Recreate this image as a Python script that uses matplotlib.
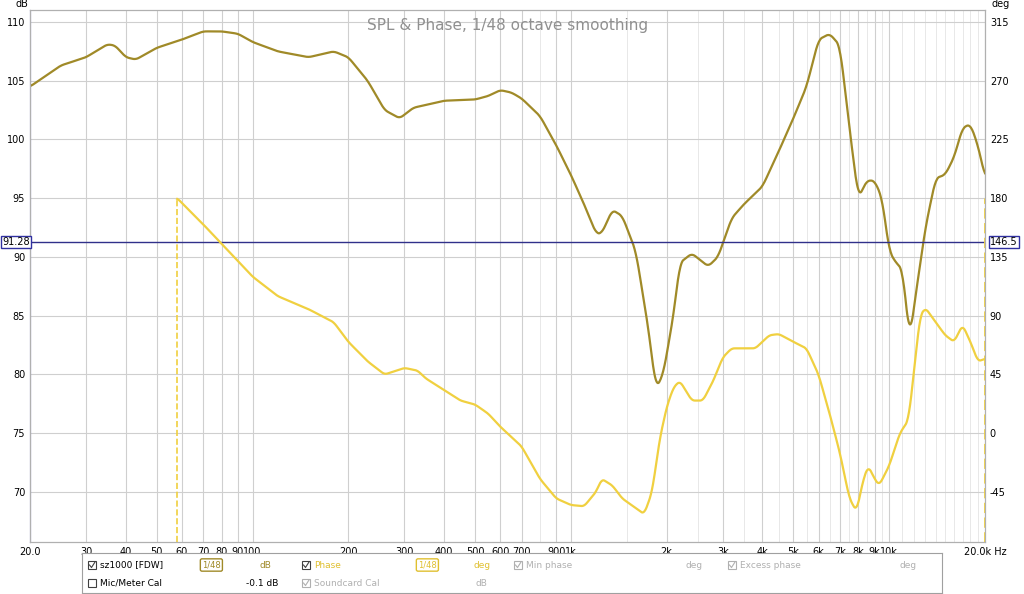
import numpy as np
import matplotlib
matplotlib.use("Agg")
import matplotlib.pyplot as plt
from matplotlib.ticker import FixedLocator, NullFormatter
plt.rcParams['axes.unicode_minus'] = False

spl_f = [20,25,30,35,37,40,43,50,60,70,80,90,100,120,150,180,200,230,260,290,320,400,500,550,600,650,700,800,900,1000,1100,1200,1250,1350,1450,1600,1750,1850,1950,2100,2200,2400,2700,2900,3200,3500,4000,4500,5000,5500,6000,6500,7000,7500,8000,8500,9000,9500,10000,10500,11000,11600,12000,13000,14000,15000,16000,17000,18000,19000,20000]
spl_db = [104.5,106.3,107,108.1,108,107,106.8,107.8,108.5,109.2,109.2,109,108.3,107.5,107,107.5,107,105,102.5,101.8,102.7,103.3,103.4,103.7,104.2,104,103.5,102,99.5,97,94.5,92,92,94,93.5,90.5,84,78.8,80,85,89.5,90.3,89.2,90,93.3,94.5,96,99,101.8,104.5,108.5,109,108,101,95,96.5,96.5,95,90.5,89.5,89,83,86,92.5,96.7,97,98.5,101,101.3,99.5,96.8]
ph_f = [58,70,80,100,120,150,180,200,230,260,300,330,350,400,450,500,550,600,700,800,900,1000,1100,1200,1250,1350,1450,1550,1700,1800,1900,2000,2100,2200,2400,2600,2800,3000,3200,3800,4200,4500,5000,5500,6000,6500,7000,7500,7900,8300,8600,9000,9300,10000,10800,11500,12000,12500,13000,14000,15000,16000,17000,18000,19000,20000]
ph_deg = [180,160,145,120,105,95,85,70,55,45,50,48,42,33,25,22,15,5,-10,-35,-50,-55,-56,-45,-35,-40,-50,-55,-62,-45,-5,20,35,40,25,25,40,58,65,65,75,76,70,65,45,15,-15,-50,-60,-35,-25,-35,-40,-25,0,10,50,90,96,85,75,70,83,70,55,57]
ref_db = 91.28
ref_deg = 146.5

def smooth(fx, fy, n=1500):
    lx = np.log10(fx); y = np.asarray(fy, float)
    xs = np.linspace(lx[0], lx[-1], n)
    ys = np.interp(xs, lx, y)
    k = 5
    pad = np.pad(ys, k, mode='edge')
    ys = np.convolve(pad, np.ones(2*k+1)/(2*k+1), mode='valid')
    return 10**xs, ys

fig = plt.figure(figsize=(10.24, 5.94), dpi=100)
fig.patch.set_facecolor('white')
ax = fig.add_axes([30/1024, 52/594, 955/1024, 532/594])
ax.set_xscale('log')
ax.set_xlim(20, 20000)
ylo, yhi = 65.74, 111.02
ax.set_ylim(ylo, yhi)
ax2 = ax.twinx()
ax2.set_ylim(9*ylo-675, 9*yhi-675)

major = [20,30,40,50,60,70,80,90,100,200,300,400,500,600,700,900,1000,2000,3000,4000,5000,6000,7000,8000,9000,10000,20000]
labels = ['20.0','30','40','50','60','70','80','90','100','200','300','400','500','600','700','900','1k','2k','3k','4k','5k','6k','7k','8k','9k','10k','20.0k Hz']
ax.xaxis.set_major_locator(FixedLocator(major))
ax.set_xticklabels(labels, fontsize=7)
ax.xaxis.set_minor_locator(FixedLocator([800]+[i*1000+500 for i in range(1,10)]+[11000,12000,13000,14000,15000,16000,17000,18000,19000]))
ax.xaxis.set_minor_formatter(NullFormatter())
ax.set_yticks([70,75,80,85,90,95,100,105,110])
ax.tick_params(axis='y', labelsize=7, length=0)
ax.tick_params(axis='x', length=0, which='both')
ax2.set_yticks([-45,0,45,90,135,180,225,270,315])
ax2.tick_params(axis='y', labelsize=7, length=0)
ax.grid(True, which='major', color='#cfcfcf', lw=0.8)
ax.grid(True, which='minor', color='#e4e4e4', lw=0.6)
for a in (ax, ax2):
    for s in a.spines.values():
        s.set_color('#b0b0b0')
ax.spines['left'].set_color('#3030a0')

x, y = smooth(spl_f, spl_db)
ax.plot(x, y, color='#a08a28', lw=1.6)
x, y = smooth(ph_f, ph_deg)
ax2.plot(x, y, color='#f0d040', lw=1.6)
ax2.plot([ph_f[0]]*2, [9*ylo-675, ph_deg[0]], color='#f0d040', lw=1.2, ls='--')
ax2.plot([20000]*2, [9*ylo-675, 180], color='#f0d040', lw=2, ls='--')
ax.axhline(ref_db, color='#30308a', lw=1)

ax.text(0.5, 0.985, 'SPL & Phase, 1/48 octave smoothing', transform=ax.transAxes, ha='center', va='top', fontsize=11, color='#909090')
fig.text(16/1024, 1-7/594, 'dB', fontsize=7)
fig.text(992/1024, 1-7/594, 'deg', fontsize=7)
fig.text(2/1024, 1-242/594, '91.28', fontsize=7, va='center', bbox=dict(fc='white', ec='#3030a0', pad=1))
fig.text(990/1024, 1-242/594, '146.5', fontsize=7, va='center', bbox=dict(fc='white', ec='#3030a0', pad=1))

lg = fig.add_axes([82/1024, 1/594, 860/1024, 40/594])
lg.set_xlim(0, 860); lg.set_ylim(40, 0)
lg.set_xticks([]); lg.set_yticks([])
for s in lg.spines.values(): s.set_color('#a0a0a0')
def item(x, yy, txt, col='black', checked=True, gray=False):
    c = '#b0b0b0' if gray else '#404040'
    lg.add_patch(plt.Rectangle((x, yy-4), 8, 8, fill=False, ec=c, lw=0.8))
    if checked:
        lg.plot([x+1.5, x+3.5, x+7], [yy, yy+2.5, yy-3], color=c, lw=0.8)
    lg.text(x+12, yy, txt, fontsize=6.5, va='center', color=col)
item(6, 12, 'sz1000 [FDW]')
lg.text(120, 12, '1/48', fontsize=6, va='center', color='#a08a28', bbox=dict(fc='white', ec='#a08a28', boxstyle='round,pad=0.2'))
lg.text(178, 12, 'dB', fontsize=6.5, va='center', color='#a08a28')
item(220, 12, 'Phase', col='#e0c030')
lg.text(336, 12, '1/48', fontsize=6, va='center', color='#e0c030', bbox=dict(fc='white', ec='#e0c030', boxstyle='round,pad=0.2'))
lg.text(391, 12, 'deg', fontsize=6.5, va='center', color='#e0c030')
item(432, 12, 'Min phase', col='#b0b0b0', gray=True)
lg.text(604, 12, 'deg', fontsize=6.5, va='center', color='#b0b0b0')
item(646, 12, 'Excess phase', col='#b0b0b0', gray=True)
lg.text(818, 12, 'deg', fontsize=6.5, va='center', color='#b0b0b0')
item(6, 30, 'Mic/Meter Cal', checked=False)
lg.text(164, 30, '-0.1 dB', fontsize=6.5, va='center')
item(220, 30, 'Soundcard Cal', col='#b0b0b0', gray=True)
lg.text(394, 30, 'dB', fontsize=6.5, va='center', color='#b0b0b0')

fig.savefig('out.png', dpi=100)
